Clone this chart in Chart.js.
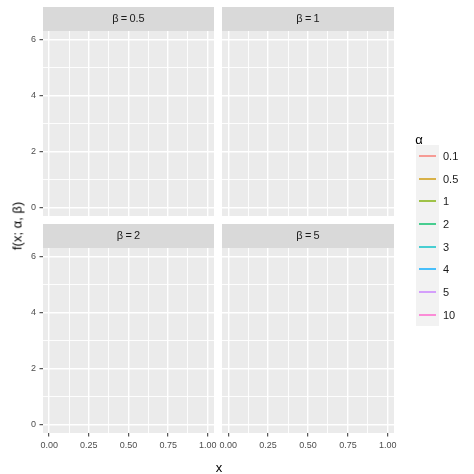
<!DOCTYPE html>
<html>
<head>
<meta charset="utf-8">
<script src="https://cdn.jsdelivr.net/npm/chart.js@4.4.0/dist/chart.umd.min.js"></script>
<style>
  html, body { margin: 0; padding: 0; background: #fff; }
  #wrap { position: relative; width: 474px; height: 474px; overflow: hidden; font-family: "Liberation Sans", Arial, sans-serif; }
  #wrap canvas { position: absolute; left: 0; top: 0; }
  .lab { position: absolute; white-space: nowrap; line-height: 1; }
  .key { position: absolute; width: 23px; background: #F2F2F2; }
  .key span { position: absolute; left: 3px; width: 17px; height: 2px; opacity: 0.7; }
</style>
</head>
<body>
<div id="wrap">
  <canvas id="p0" width="474" height="474"></canvas>
  <canvas id="p1" width="474" height="474"></canvas>
  <canvas id="p2" width="474" height="474"></canvas>
  <canvas id="p3" width="474" height="474"></canvas>
  <div class="lab" style="left:17px;top:226px;font-size:13px;color:#000;transform:translate(-50%,-50%) rotate(-90deg);">f(x; α, β)</div>
  <div class="lab" style="left:219px;top:467px;font-size:13px;color:#000;transform:translate(-50%,-50%);">x</div>
  <div id="legend"></div>
</div>
<script>
// facet + legend values
const betaValues = ['0.5', '1', '2', '5'];
const alphaValues = ['0.1', '0.5', '1', '2', '3', '4', '5', '10'];
const alphaColors = ['#F8766D', '#CD9600', '#7CAE00', '#00BE67', '#00BFC4', '#00A9FF', '#C77CFF', '#FF61CC'];

// axis breaks
const xBreaks = [0, 0.25, 0.5, 0.75, 1];
const xTickLabels = ['0.00', '0.25', '0.50', '0.75', '1.00'];
const xMinor = [0.125, 0.375, 0.625, 0.875];
const yBreaks = [0, 2, 4, 6];
const yTickLabels = ['0', '2', '4', '6'];
const yMinor = [1, 3, 5];
const xLim = [-0.039, 1.039];
const yLim = [-0.3, 6.3];

// the curves are not drawn in the reference panels, so every series is empty
const seriesData = alphaValues.map(() => []);

const FONT = '"Liberation Sans", Arial, sans-serif';
const xGrid = xBreaks.concat(xMinor).sort((a, b) => a - b);
const yGrid = yBreaks.concat(yMinor).sort((a, b) => a - b);

// panel rectangles (pixels on the 474x474 page)
const panels = [
    { id: 'p0', beta: betaValues[0], left: 43, top: 31, right: 214, bottom: 216, yAxis: true, xAxis: false },
    { id: 'p1', beta: betaValues[1], left: 222, top: 31, right: 394, bottom: 216, yAxis: false, xAxis: false },
    { id: 'p2', beta: betaValues[2], left: 43, top: 248, right: 214, bottom: 433, yAxis: true, xAxis: true },
    { id: 'p3', beta: betaValues[3], left: 222, top: 248, right: 394, bottom: 433, yAxis: false, xAxis: true }
];
const X_AXIS_H = 21;
const STRIP_H = 24;

// grey panel background + facet strip
const facetPlugin = {
    id: 'facet',
    beforeDraw(chart, args, opts) {
        const a = chart.chartArea;
        const ctx = chart.ctx;
        ctx.save();
        ctx.fillStyle = '#EBEBEB';
        ctx.fillRect(a.left, a.top, a.right - a.left, a.bottom - a.top);
        ctx.fillStyle = '#D9D9D9';
        ctx.fillRect(a.left, a.top - STRIP_H, a.right - a.left, STRIP_H);
        ctx.fillStyle = '#1A1A1A';
        ctx.font = '11px ' + FONT;
        ctx.textAlign = 'center';
        ctx.textBaseline = 'middle';
        ctx.fillText('β\u2009=\u2009' + opts.beta, (a.left + a.right) / 2, a.top - STRIP_H / 2);
        ctx.restore();
    }
};

function makePanel(p) {
    const canvas = document.getElementById(p.id);
    return new Chart(canvas, {
        type: 'line',
        data: {
            datasets: alphaValues.map((a, i) => ({
                label: a,
                data: seriesData[i],
                borderColor: alphaColors[i],
                borderWidth: 1,
                pointRadius: 0
            }))
        },
        options: {
            responsive: false,
            animation: false,
            events: [],
            layout: {
                padding: {
                    left: p.yAxis ? 0 : p.left,
                    top: p.top,
                    right: 474 - p.right,
                    bottom: 474 - p.bottom - (p.xAxis ? X_AXIS_H : 0)
                }
            },
            plugins: {
                legend: { display: false },
                tooltip: { enabled: false },
                facet: { beta: p.beta }
            },
            scales: {
                x: {
                    type: 'linear',
                    min: xLim[0],
                    max: xLim[1],
                    afterBuildTicks: s => { s.ticks = xGrid.map(v => ({ value: v })); },
                    afterFit: s => { s.height = p.xAxis ? X_AXIS_H : 0; },
                    border: { display: false },
                    grid: {
                        color: '#FFFFFF',
                        lineWidth: c => (xBreaks.includes(c.tick.value) ? 1.4 : 0.9),
                        drawTicks: p.xAxis,
                        tickLength: 3.5,
                        tickWidth: 1,
                        tickColor: c => (xBreaks.includes(c.tick.value) ? '#333333' : 'rgba(0,0,0,0)')
                    },
                    ticks: {
                        display: p.xAxis,
                        autoSkip: false,
                        maxRotation: 0,
                        padding: 4,
                        color: '#4D4D4D',
                        font: { family: FONT, size: 9 },
                        callback: v => {
                            const i = xBreaks.indexOf(v);
                            return i < 0 ? '' : xTickLabels[i];
                        }
                    }
                },
                y: {
                    type: 'linear',
                    min: yLim[0],
                    max: yLim[1],
                    afterBuildTicks: s => { s.ticks = yGrid.map(v => ({ value: v })); },
                    afterFit: s => { s.width = p.yAxis ? p.left : 0; },
                    border: { display: false },
                    grid: {
                        color: '#FFFFFF',
                        lineWidth: c => (yBreaks.includes(c.tick.value) ? 1.4 : 0.9),
                        drawTicks: p.yAxis,
                        tickLength: 3.5,
                        tickWidth: 1,
                        tickColor: c => (yBreaks.includes(c.tick.value) ? '#333333' : 'rgba(0,0,0,0)')
                    },
                    ticks: {
                        display: p.yAxis,
                        autoSkip: false,
                        padding: 3.5,
                        color: '#4D4D4D',
                        font: { family: FONT, size: 9 },
                        callback: v => {
                            const i = yBreaks.indexOf(v);
                            return i < 0 ? '' : yTickLabels[i];
                        }
                    }
                }
            }
        },
        plugins: [facetPlugin]
    });
}

panels.forEach(makePanel);

// legend (alpha)
const legend = document.getElementById('legend');
const KEY_TOP = 144.5, KEY_H = 22.7;
let html = '<div class="lab" style="left:419px;top:139px;font-size:13px;color:#000;transform:translate(-50%,-50%);">α</div>';
alphaValues.forEach((a, i) => {
    const top = Math.round(KEY_TOP + i * KEY_H);
    const next = Math.round(KEY_TOP + (i + 1) * KEY_H);
    const mid = Math.round(KEY_TOP + (i + 0.5) * KEY_H);
    html += `<div class="key" style="left:416px;top:${top}px;height:${next - top}px;"><span style="top:${mid - top - 1}px;background:${alphaColors[i]}"></span></div>`;
    html += `<div class="lab" style="left:443px;top:${mid}px;font-size:11px;color:#1A1A1A;transform:translateY(-50%);">${a}</div>`;
});
legend.innerHTML = html;
</script>
</body>
</html>
